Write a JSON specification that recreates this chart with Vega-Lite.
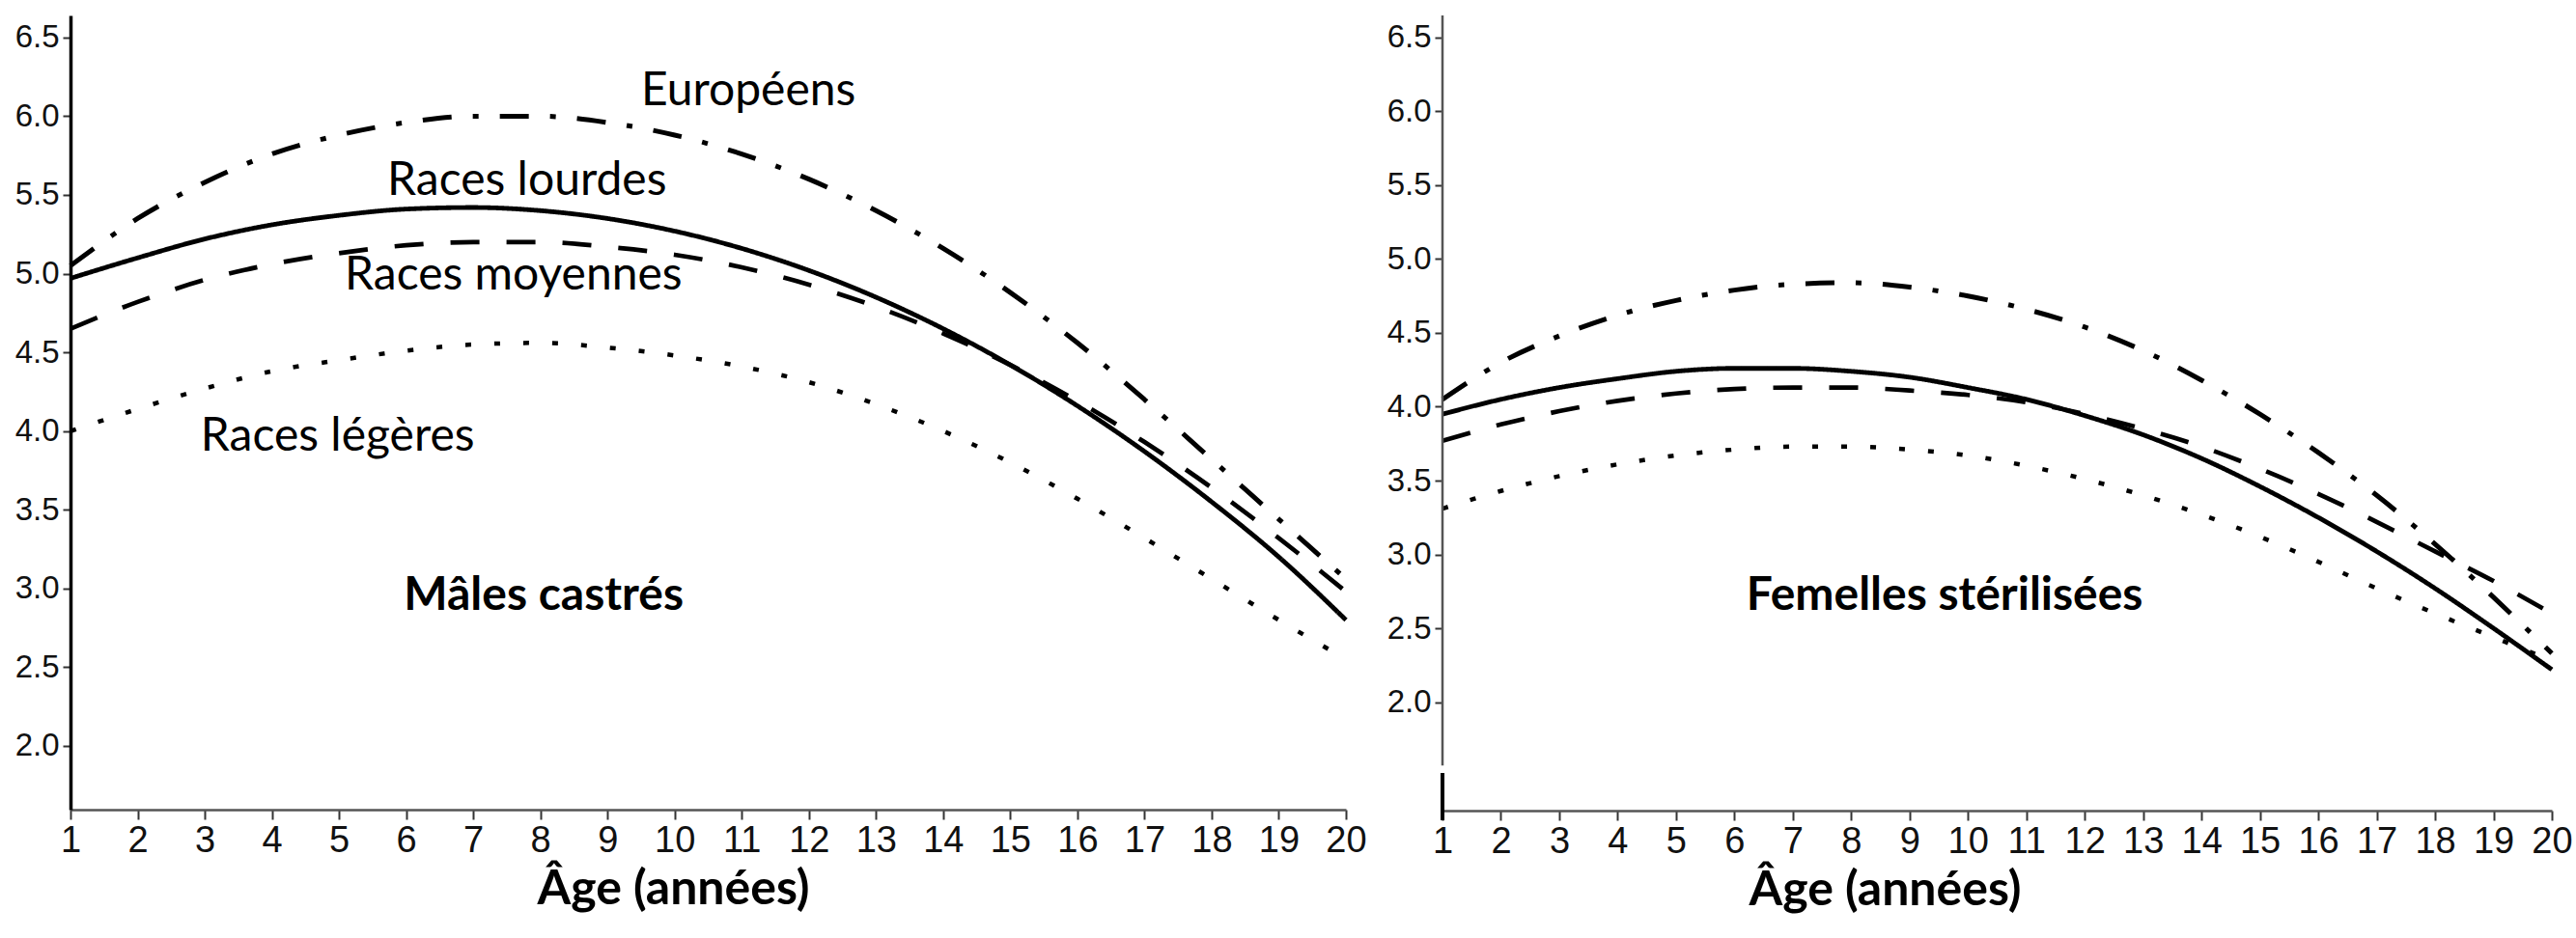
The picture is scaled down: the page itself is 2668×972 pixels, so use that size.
{
  "$schema": "https://vega.github.io/schema/vega-lite/v6.json",
  "background": "white",
  "padding": {"left": 15, "top": 14, "right": 0, "bottom": 0},
  "spacing": 100,
  "bounds": "flush",
  "config": {
    "view": {"stroke": null},
    "axis": {"grid": false},
    "axisX": {
      "labelFont": "Liberation Sans, Arial, sans-serif",
      "labelFontSize": 38,
      "labelColor": "#111",
      "labelFlush": false,
      "labelPadding": 3,
      "tickSize": 10,
      "tickWidth": 2,
      "tickColor": "#333",
      "domainColor": "#555",
      "domainWidth": 2.5,
      "titleFont": "Lato",
      "titleFontWeight": "bold",
      "titleFontSize": 50,
      "titleColor": "#000",
      "titlePadding": 6
    },
    "axisY": {
      "labelFont": "Liberation Sans, Arial, sans-serif",
      "labelFontSize": 33,
      "labelColor": "#111",
      "labelPadding": 4,
      "tickSize": 8,
      "tickWidth": 2,
      "tickColor": "#333"
    },
    "text": {"font": "Lato", "fontSize": 48, "color": "#000", "baseline": "alphabetic"}
  },
  "datasets": {
    "males": [
      {"age": 1, "groupe": "Européens", "valeur": 5.05},
      {"age": 2, "groupe": "Européens", "valeur": 5.35},
      {"age": 3, "groupe": "Européens", "valeur": 5.58},
      {"age": 4, "groupe": "Européens", "valeur": 5.76},
      {"age": 5, "groupe": "Européens", "valeur": 5.88},
      {"age": 6, "groupe": "Européens", "valeur": 5.96},
      {"age": 7, "groupe": "Européens", "valeur": 6.0},
      {"age": 8, "groupe": "Européens", "valeur": 6.0},
      {"age": 9, "groupe": "Européens", "valeur": 5.96},
      {"age": 10, "groupe": "Européens", "valeur": 5.88},
      {"age": 11, "groupe": "Européens", "valeur": 5.76},
      {"age": 12, "groupe": "Européens", "valeur": 5.6},
      {"age": 13, "groupe": "Européens", "valeur": 5.4},
      {"age": 14, "groupe": "Européens", "valeur": 5.16},
      {"age": 15, "groupe": "Européens", "valeur": 4.88},
      {"age": 16, "groupe": "Européens", "valeur": 4.56},
      {"age": 17, "groupe": "Européens", "valeur": 4.2},
      {"age": 18, "groupe": "Européens", "valeur": 3.82},
      {"age": 19, "groupe": "Européens", "valeur": 3.44},
      {"age": 20, "groupe": "Européens", "valeur": 3.06},
      {"age": 1, "groupe": "Races lourdes", "valeur": 4.97},
      {"age": 2, "groupe": "Races lourdes", "valeur": 5.1},
      {"age": 3, "groupe": "Races lourdes", "valeur": 5.22},
      {"age": 4, "groupe": "Races lourdes", "valeur": 5.31},
      {"age": 5, "groupe": "Races lourdes", "valeur": 5.37},
      {"age": 6, "groupe": "Races lourdes", "valeur": 5.41},
      {"age": 7, "groupe": "Races lourdes", "valeur": 5.42},
      {"age": 8, "groupe": "Races lourdes", "valeur": 5.4},
      {"age": 9, "groupe": "Races lourdes", "valeur": 5.35},
      {"age": 10, "groupe": "Races lourdes", "valeur": 5.27},
      {"age": 11, "groupe": "Races lourdes", "valeur": 5.16},
      {"age": 12, "groupe": "Races lourdes", "valeur": 5.02},
      {"age": 13, "groupe": "Races lourdes", "valeur": 4.85},
      {"age": 14, "groupe": "Races lourdes", "valeur": 4.65},
      {"age": 15, "groupe": "Races lourdes", "valeur": 4.42},
      {"age": 16, "groupe": "Races lourdes", "valeur": 4.16},
      {"age": 17, "groupe": "Races lourdes", "valeur": 3.87},
      {"age": 18, "groupe": "Races lourdes", "valeur": 3.55},
      {"age": 19, "groupe": "Races lourdes", "valeur": 3.2},
      {"age": 20, "groupe": "Races lourdes", "valeur": 2.8},
      {"age": 1, "groupe": "Races moyennes", "valeur": 4.65},
      {"age": 2, "groupe": "Races moyennes", "valeur": 4.82},
      {"age": 3, "groupe": "Races moyennes", "valeur": 4.96},
      {"age": 4, "groupe": "Races moyennes", "valeur": 5.06},
      {"age": 5, "groupe": "Races moyennes", "valeur": 5.13},
      {"age": 6, "groupe": "Races moyennes", "valeur": 5.18},
      {"age": 7, "groupe": "Races moyennes", "valeur": 5.2},
      {"age": 8, "groupe": "Races moyennes", "valeur": 5.2},
      {"age": 9, "groupe": "Races moyennes", "valeur": 5.17},
      {"age": 10, "groupe": "Races moyennes", "valeur": 5.12},
      {"age": 11, "groupe": "Races moyennes", "valeur": 5.04},
      {"age": 12, "groupe": "Races moyennes", "valeur": 4.93},
      {"age": 13, "groupe": "Races moyennes", "valeur": 4.79},
      {"age": 14, "groupe": "Races moyennes", "valeur": 4.62},
      {"age": 15, "groupe": "Races moyennes", "valeur": 4.42},
      {"age": 16, "groupe": "Races moyennes", "valeur": 4.19},
      {"age": 17, "groupe": "Races moyennes", "valeur": 3.93},
      {"age": 18, "groupe": "Races moyennes", "valeur": 3.64},
      {"age": 19, "groupe": "Races moyennes", "valeur": 3.32},
      {"age": 20, "groupe": "Races moyennes", "valeur": 2.98},
      {"age": 1, "groupe": "Races légères", "valeur": 4.0},
      {"age": 2, "groupe": "Races légères", "valeur": 4.14},
      {"age": 3, "groupe": "Races légères", "valeur": 4.27},
      {"age": 4, "groupe": "Races légères", "valeur": 4.38},
      {"age": 5, "groupe": "Races légères", "valeur": 4.45},
      {"age": 6, "groupe": "Races légères", "valeur": 4.51},
      {"age": 7, "groupe": "Races légères", "valeur": 4.55},
      {"age": 8, "groupe": "Races légères", "valeur": 4.56},
      {"age": 9, "groupe": "Races légères", "valeur": 4.53},
      {"age": 10, "groupe": "Races légères", "valeur": 4.48},
      {"age": 11, "groupe": "Races légères", "valeur": 4.41},
      {"age": 12, "groupe": "Races légères", "valeur": 4.31},
      {"age": 13, "groupe": "Races légères", "valeur": 4.17},
      {"age": 14, "groupe": "Races légères", "valeur": 4.0},
      {"age": 15, "groupe": "Races légères", "valeur": 3.8},
      {"age": 16, "groupe": "Races légères", "valeur": 3.57},
      {"age": 17, "groupe": "Races légères", "valeur": 3.32},
      {"age": 18, "groupe": "Races légères", "valeur": 3.06},
      {"age": 19, "groupe": "Races légères", "valeur": 2.8},
      {"age": 20, "groupe": "Races légères", "valeur": 2.55}
    ],
    "femelles": [
      {"age": 1, "groupe": "Européens", "valeur": 4.05},
      {"age": 2, "groupe": "Européens", "valeur": 4.3},
      {"age": 3, "groupe": "Européens", "valeur": 4.48},
      {"age": 4, "groupe": "Européens", "valeur": 4.62},
      {"age": 5, "groupe": "Européens", "valeur": 4.72},
      {"age": 6, "groupe": "Européens", "valeur": 4.79},
      {"age": 7, "groupe": "Européens", "valeur": 4.83},
      {"age": 8, "groupe": "Européens", "valeur": 4.84},
      {"age": 9, "groupe": "Européens", "valeur": 4.81},
      {"age": 10, "groupe": "Européens", "valeur": 4.75},
      {"age": 11, "groupe": "Européens", "valeur": 4.66},
      {"age": 12, "groupe": "Européens", "valeur": 4.54},
      {"age": 13, "groupe": "Européens", "valeur": 4.38},
      {"age": 14, "groupe": "Européens", "valeur": 4.18},
      {"age": 15, "groupe": "Européens", "valeur": 3.95},
      {"age": 16, "groupe": "Européens", "valeur": 3.69},
      {"age": 17, "groupe": "Européens", "valeur": 3.4},
      {"age": 18, "groupe": "Européens", "valeur": 3.07},
      {"age": 19, "groupe": "Européens", "valeur": 2.71},
      {"age": 20, "groupe": "Européens", "valeur": 2.33},
      {"age": 1, "groupe": "Races lourdes", "valeur": 3.95},
      {"age": 2, "groupe": "Races lourdes", "valeur": 4.05},
      {"age": 3, "groupe": "Races lourdes", "valeur": 4.13},
      {"age": 4, "groupe": "Races lourdes", "valeur": 4.19},
      {"age": 5, "groupe": "Races lourdes", "valeur": 4.24},
      {"age": 6, "groupe": "Races lourdes", "valeur": 4.26},
      {"age": 7, "groupe": "Races lourdes", "valeur": 4.26},
      {"age": 8, "groupe": "Races lourdes", "valeur": 4.24},
      {"age": 9, "groupe": "Races lourdes", "valeur": 4.2},
      {"age": 10, "groupe": "Races lourdes", "valeur": 4.13},
      {"age": 11, "groupe": "Races lourdes", "valeur": 4.05},
      {"age": 12, "groupe": "Races lourdes", "valeur": 3.94},
      {"age": 13, "groupe": "Races lourdes", "valeur": 3.81},
      {"age": 14, "groupe": "Races lourdes", "valeur": 3.65},
      {"age": 15, "groupe": "Races lourdes", "valeur": 3.46},
      {"age": 16, "groupe": "Races lourdes", "valeur": 3.25},
      {"age": 17, "groupe": "Races lourdes", "valeur": 3.02},
      {"age": 18, "groupe": "Races lourdes", "valeur": 2.77},
      {"age": 19, "groupe": "Races lourdes", "valeur": 2.5},
      {"age": 20, "groupe": "Races lourdes", "valeur": 2.22},
      {"age": 1, "groupe": "Races moyennes", "valeur": 3.77},
      {"age": 2, "groupe": "Races moyennes", "valeur": 3.88},
      {"age": 3, "groupe": "Races moyennes", "valeur": 3.97},
      {"age": 4, "groupe": "Races moyennes", "valeur": 4.04},
      {"age": 5, "groupe": "Races moyennes", "valeur": 4.09},
      {"age": 6, "groupe": "Races moyennes", "valeur": 4.12},
      {"age": 7, "groupe": "Races moyennes", "valeur": 4.13},
      {"age": 8, "groupe": "Races moyennes", "valeur": 4.13},
      {"age": 9, "groupe": "Races moyennes", "valeur": 4.11},
      {"age": 10, "groupe": "Races moyennes", "valeur": 4.08},
      {"age": 11, "groupe": "Races moyennes", "valeur": 4.03},
      {"age": 12, "groupe": "Races moyennes", "valeur": 3.95},
      {"age": 13, "groupe": "Races moyennes", "valeur": 3.85},
      {"age": 14, "groupe": "Races moyennes", "valeur": 3.73},
      {"age": 15, "groupe": "Races moyennes", "valeur": 3.58},
      {"age": 16, "groupe": "Races moyennes", "valeur": 3.41},
      {"age": 17, "groupe": "Races moyennes", "valeur": 3.22},
      {"age": 18, "groupe": "Races moyennes", "valeur": 3.02},
      {"age": 19, "groupe": "Races moyennes", "valeur": 2.82},
      {"age": 20, "groupe": "Races moyennes", "valeur": 2.6},
      {"age": 1, "groupe": "Races légères", "valeur": 3.31},
      {"age": 2, "groupe": "Races légères", "valeur": 3.43},
      {"age": 3, "groupe": "Races légères", "valeur": 3.53},
      {"age": 4, "groupe": "Races légères", "valeur": 3.61},
      {"age": 5, "groupe": "Races légères", "valeur": 3.67},
      {"age": 6, "groupe": "Races légères", "valeur": 3.71},
      {"age": 7, "groupe": "Races légères", "valeur": 3.73},
      {"age": 8, "groupe": "Races légères", "valeur": 3.73},
      {"age": 9, "groupe": "Races légères", "valeur": 3.71},
      {"age": 10, "groupe": "Races légères", "valeur": 3.67},
      {"age": 11, "groupe": "Races légères", "valeur": 3.6},
      {"age": 12, "groupe": "Races légères", "valeur": 3.51},
      {"age": 13, "groupe": "Races légères", "valeur": 3.4},
      {"age": 14, "groupe": "Races légères", "valeur": 3.27},
      {"age": 15, "groupe": "Races légères", "valeur": 3.12},
      {"age": 16, "groupe": "Races légères", "valeur": 2.95},
      {"age": 17, "groupe": "Races légères", "valeur": 2.77},
      {"age": 18, "groupe": "Races légères", "valeur": 2.6},
      {"age": 19, "groupe": "Races légères", "valeur": 2.44},
      {"age": 20, "groupe": "Races légères", "valeur": 2.28}
    ],
    "annotation": [{}]
  },
  "hconcat": [
    {
      "width": 1321,
      "height": 823,
      "layer": [
        {
          "data": {"name": "males"},
          "mark": {"type": "line", "interpolate": "monotone", "color": "#000", "strokeCap": "butt"},
          "encoding": {
            "x": {"field": "age", "type": "quantitative", "scale": {"domain": [1, 20], "nice": false, "zero": false},
                  "axis": {"title": "Âge (années)", "titleX": 624, "values": [1, 2, 3, 4, 5, 6, 7, 8, 9, 10, 11, 12, 13, 14, 15, 16, 17, 18, 19, 20], "format": "d"}},
            "y": {"field": "valeur", "type": "quantitative", "scale": {"domain": [1.595, 6.64], "nice": false, "zero": false},
                  "axis": {"title": null, "values": [2.0, 2.5, 3.0, 3.5, 4.0, 4.5, 5.0, 5.5, 6.0, 6.5], "format": ".1f", "domainColor": "#000", "domainWidth": 3.5}},
            "detail": {"field": "groupe"},
            "strokeDash": {"field": "groupe", "type": "nominal", "legend": null, "scale": {"domain": ["Européens", "Races lourdes", "Races moyennes", "Races légères"], "range": [[30, 22, 6, 22], [1, 0], [30, 28], [6, 24]]}},
            "strokeWidth": {"field": "groupe", "type": "nominal", "legend": null, "scale": {"domain": ["Européens", "Races lourdes", "Races moyennes", "Races légères"], "range": [5, 4.5, 5, 6]}}
          }
        },
        {"data": {"name": "annotation"}, "mark": {"type": "text", "text": "Européens", "align": "center"}, "encoding": {"x": {"datum": 11.1}, "y": {"datum": 6.07}}},
        {"data": {"name": "annotation"}, "mark": {"type": "text", "text": "Races lourdes", "align": "center"}, "encoding": {"x": {"datum": 7.8}, "y": {"datum": 5.5}}},
        {"data": {"name": "annotation"}, "mark": {"type": "text", "text": "Races moyennes", "align": "center"}, "encoding": {"x": {"datum": 7.6}, "y": {"datum": 4.9}}},
        {"data": {"name": "annotation"}, "mark": {"type": "text", "text": "Races légères", "align": "center"}, "encoding": {"x": {"datum": 4.98}, "y": {"datum": 3.875}}},
        {"data": {"name": "annotation"}, "mark": {"type": "text", "text": "Mâles castrés", "align": "center", "fontWeight": "bold", "fontSize": 48}, "encoding": {"x": {"datum": 8.05}, "y": {"datum": 2.864}}}
      ]
    },
    {
      "width": 1149,
      "height": 824,
      "layer": [
        {
          "data": {"name": "femelles"},
          "mark": {"type": "line", "interpolate": "monotone", "color": "#000", "strokeCap": "butt"},
          "encoding": {
            "x": {"field": "age", "type": "quantitative", "scale": {"domain": [1, 20], "nice": false, "zero": false},
                  "axis": {"title": "Âge (années)", "titleX": 458, "values": [1, 2, 3, 4, 5, 6, 7, 8, 9, 10, 11, 12, 13, 14, 15, 16, 17, 18, 19, 20], "format": "d"}},
            "y": {"field": "valeur", "type": "quantitative", "scale": {"domain": [1.265, 6.65], "nice": false, "zero": false},
                  "axis": {"title": null, "values": [2.0, 2.5, 3.0, 3.5, 4.0, 4.5, 5.0, 5.5, 6.0, 6.5], "format": ".1f", "domain": false}},
            "detail": {"field": "groupe"},
            "strokeDash": {"field": "groupe", "type": "nominal", "legend": null, "scale": {"domain": ["Européens", "Races lourdes", "Races moyennes", "Races légères"], "range": [[30, 22, 6, 22], [1, 0], [30, 28], [6, 24]]}},
            "strokeWidth": {"field": "groupe", "type": "nominal", "legend": null, "scale": {"domain": ["Européens", "Races lourdes", "Races moyennes", "Races légères"], "range": [5, 4.5, 5, 6]}}
          }
        },
        {"data": {"name": "annotation"}, "mark": {"type": "rule", "color": "#555", "strokeWidth": 2.5}, "encoding": {"x": {"datum": 1}, "y": {"datum": 6.65}, "y2": {"datum": 1.57}}},
        {"data": {"name": "annotation"}, "mark": {"type": "rule", "color": "#000", "strokeWidth": 4}, "encoding": {"x": {"datum": 1}, "y": {"datum": 1.52}, "y2": {"datum": 1.2}}},
        {"data": {"name": "annotation"}, "mark": {"type": "text", "text": "Femelles stérilisées", "align": "center", "fontWeight": "bold", "fontSize": 48}, "encoding": {"x": {"datum": 9.6}, "y": {"datum": 2.624}}}
      ]
    }
  ]
}
